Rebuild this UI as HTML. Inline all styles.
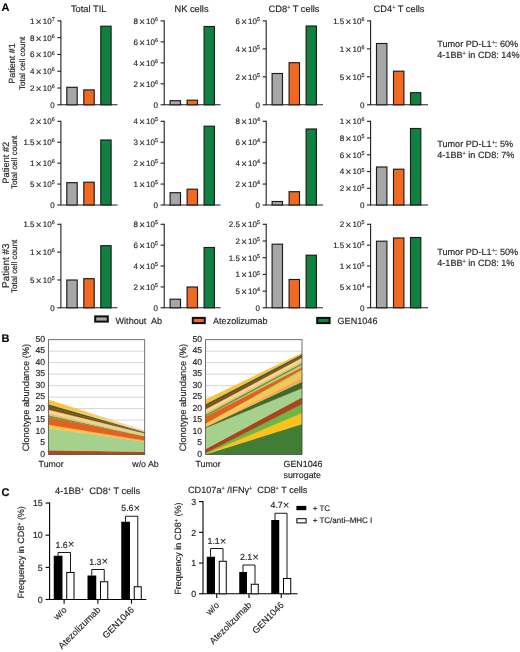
<!DOCTYPE html>
<html lang="en"><head><meta charset="utf-8"><title>Figure</title>
<style>html,body{margin:0;padding:0;background:#fff}svg{display:block}</style></head>
<body>
<svg width="520" height="652" viewBox="0 0 520 652" font-family='"Liberation Sans", Arial, Helvetica, sans-serif' fill="#231f20">
<style>text{text-rendering:geometricPrecision;stroke:#231f20;stroke-width:.16px;stroke-linejoin:round}</style>
<rect width="520" height="652" fill="#fff"/>
<text x="1.6" y="11.2" font-size="11" font-weight="bold" fill="#000">A</text>
<text x="88.7" y="11.6" font-size="9.3" text-anchor="middle">Total TIL</text>
<text x="191.5" y="11.6" font-size="9.3" text-anchor="middle">NK cells</text>
<text x="294" y="11.6" font-size="9.3" text-anchor="middle">CD8<tspan dy="-3" font-size="5.5">+</tspan><tspan dy="3"> T cells</tspan></text>
<text x="399" y="11.6" font-size="9.3" text-anchor="middle">CD4<tspan dy="-3" font-size="5.5">+</tspan><tspan dy="3"> T cells</tspan></text>
<path d="M60.9 20.4V104.8H117.5" fill="none" stroke="#231f20" stroke-width="1.1"/>
<path d="M57.3 20.90H60.9" stroke="#231f20" stroke-width="1.1"/>
<text x="54.699999999999996" y="23.75" font-size="8.0" text-anchor="end">1<tspan font-size="9.8" dx="1.3" dy="1.1">×</tspan><tspan dx="1.2" dy="-1.1">10</tspan><tspan dy="-2.7" font-size="5.4">7</tspan></text>
<path d="M57.3 37.68H60.9" stroke="#231f20" stroke-width="1.1"/>
<text x="54.699999999999996" y="40.53" font-size="8.0" text-anchor="end">8<tspan font-size="9.8" dx="1.3" dy="1.1">×</tspan><tspan dx="1.2" dy="-1.1">10</tspan><tspan dy="-2.7" font-size="5.4">6</tspan></text>
<path d="M57.3 54.46H60.9" stroke="#231f20" stroke-width="1.1"/>
<text x="54.699999999999996" y="57.31" font-size="8.0" text-anchor="end">6<tspan font-size="9.8" dx="1.3" dy="1.1">×</tspan><tspan dx="1.2" dy="-1.1">10</tspan><tspan dy="-2.7" font-size="5.4">6</tspan></text>
<path d="M57.3 71.24H60.9" stroke="#231f20" stroke-width="1.1"/>
<text x="54.699999999999996" y="74.09" font-size="8.0" text-anchor="end">4<tspan font-size="9.8" dx="1.3" dy="1.1">×</tspan><tspan dx="1.2" dy="-1.1">10</tspan><tspan dy="-2.7" font-size="5.4">6</tspan></text>
<path d="M57.3 88.02H60.9" stroke="#231f20" stroke-width="1.1"/>
<text x="54.699999999999996" y="90.87" font-size="8.0" text-anchor="end">2<tspan font-size="9.8" dx="1.3" dy="1.1">×</tspan><tspan dx="1.2" dy="-1.1">10</tspan><tspan dy="-2.7" font-size="5.4">6</tspan></text>
<path d="M57.3 104.80H60.9" stroke="#231f20" stroke-width="1.1"/>
<text x="54.699999999999996" y="107.65" font-size="8.0" text-anchor="end">0</text>
<rect x="66.80" y="87.30" width="10.40" height="17.50" fill="#a7a7aa" stroke="#1c1a1b" stroke-width="1.15"/>
<rect x="83.80" y="89.90" width="10.40" height="14.90" fill="#f26a21" stroke="#1c1a1b" stroke-width="1.15"/>
<rect x="100.80" y="26.20" width="10.30" height="78.60" fill="#0f8141" stroke="#1c1a1b" stroke-width="1.15"/>
<path d="M164.2 20.4V104.8H220.5" fill="none" stroke="#231f20" stroke-width="1.1"/>
<path d="M160.6 20.90H164.2" stroke="#231f20" stroke-width="1.1"/>
<text x="158.0" y="23.75" font-size="8.0" text-anchor="end">8<tspan font-size="9.8" dx="1.3" dy="1.1">×</tspan><tspan dx="1.2" dy="-1.1">10</tspan><tspan dy="-2.7" font-size="5.4">6</tspan></text>
<path d="M160.6 41.88H164.2" stroke="#231f20" stroke-width="1.1"/>
<text x="158.0" y="44.73" font-size="8.0" text-anchor="end">6<tspan font-size="9.8" dx="1.3" dy="1.1">×</tspan><tspan dx="1.2" dy="-1.1">10</tspan><tspan dy="-2.7" font-size="5.4">6</tspan></text>
<path d="M160.6 62.85H164.2" stroke="#231f20" stroke-width="1.1"/>
<text x="158.0" y="65.70" font-size="8.0" text-anchor="end">4<tspan font-size="9.8" dx="1.3" dy="1.1">×</tspan><tspan dx="1.2" dy="-1.1">10</tspan><tspan dy="-2.7" font-size="5.4">6</tspan></text>
<path d="M160.6 83.83H164.2" stroke="#231f20" stroke-width="1.1"/>
<text x="158.0" y="86.67" font-size="8.0" text-anchor="end">2<tspan font-size="9.8" dx="1.3" dy="1.1">×</tspan><tspan dx="1.2" dy="-1.1">10</tspan><tspan dy="-2.7" font-size="5.4">6</tspan></text>
<path d="M160.6 104.80H164.2" stroke="#231f20" stroke-width="1.1"/>
<text x="158.0" y="107.65" font-size="8.0" text-anchor="end">0</text>
<rect x="170.10" y="100.70" width="10.40" height="4.10" fill="#a7a7aa" stroke="#1c1a1b" stroke-width="1.15"/>
<rect x="187.10" y="100.20" width="10.40" height="4.60" fill="#f26a21" stroke="#1c1a1b" stroke-width="1.15"/>
<rect x="204.10" y="26.50" width="10.30" height="78.30" fill="#0f8141" stroke="#1c1a1b" stroke-width="1.15"/>
<path d="M266.2 20.4V104.8H323" fill="none" stroke="#231f20" stroke-width="1.1"/>
<path d="M262.59999999999997 20.90H266.2" stroke="#231f20" stroke-width="1.1"/>
<text x="260.0" y="23.75" font-size="8.0" text-anchor="end">6<tspan font-size="9.8" dx="1.3" dy="1.1">×</tspan><tspan dx="1.2" dy="-1.1">10</tspan><tspan dy="-2.7" font-size="5.4">5</tspan></text>
<path d="M262.59999999999997 48.87H266.2" stroke="#231f20" stroke-width="1.1"/>
<text x="260.0" y="51.72" font-size="8.0" text-anchor="end">4<tspan font-size="9.8" dx="1.3" dy="1.1">×</tspan><tspan dx="1.2" dy="-1.1">10</tspan><tspan dy="-2.7" font-size="5.4">5</tspan></text>
<path d="M262.59999999999997 76.83H266.2" stroke="#231f20" stroke-width="1.1"/>
<text x="260.0" y="79.68" font-size="8.0" text-anchor="end">2<tspan font-size="9.8" dx="1.3" dy="1.1">×</tspan><tspan dx="1.2" dy="-1.1">10</tspan><tspan dy="-2.7" font-size="5.4">5</tspan></text>
<path d="M262.59999999999997 104.80H266.2" stroke="#231f20" stroke-width="1.1"/>
<text x="260.0" y="107.65" font-size="8.0" text-anchor="end">0</text>
<rect x="272.10" y="73.50" width="10.40" height="31.30" fill="#a7a7aa" stroke="#1c1a1b" stroke-width="1.15"/>
<rect x="289.10" y="62.70" width="10.40" height="42.10" fill="#f26a21" stroke="#1c1a1b" stroke-width="1.15"/>
<rect x="306.10" y="26.00" width="10.30" height="78.80" fill="#0f8141" stroke="#1c1a1b" stroke-width="1.15"/>
<path d="M370.6 20.4V104.8H428" fill="none" stroke="#231f20" stroke-width="1.1"/>
<path d="M367.0 20.90H370.6" stroke="#231f20" stroke-width="1.1"/>
<text x="364.40000000000003" y="23.75" font-size="8.0" text-anchor="end">1.5<tspan font-size="9.8" dx="1.3" dy="1.1">×</tspan><tspan dx="1.2" dy="-1.1">10</tspan><tspan dy="-2.7" font-size="5.4">6</tspan></text>
<path d="M367.0 48.87H370.6" stroke="#231f20" stroke-width="1.1"/>
<text x="364.40000000000003" y="51.72" font-size="8.0" text-anchor="end">1<tspan font-size="9.8" dx="1.3" dy="1.1">×</tspan><tspan dx="1.2" dy="-1.1">10</tspan><tspan dy="-2.7" font-size="5.4">6</tspan></text>
<path d="M367.0 76.83H370.6" stroke="#231f20" stroke-width="1.1"/>
<text x="364.40000000000003" y="79.68" font-size="8.0" text-anchor="end">5<tspan font-size="9.8" dx="1.3" dy="1.1">×</tspan><tspan dx="1.2" dy="-1.1">10</tspan><tspan dy="-2.7" font-size="5.4">5</tspan></text>
<path d="M367.0 104.80H370.6" stroke="#231f20" stroke-width="1.1"/>
<text x="364.40000000000003" y="107.65" font-size="8.0" text-anchor="end">0</text>
<rect x="376.50" y="43.50" width="10.40" height="61.30" fill="#a7a7aa" stroke="#1c1a1b" stroke-width="1.15"/>
<rect x="393.50" y="71.20" width="10.40" height="33.60" fill="#f26a21" stroke="#1c1a1b" stroke-width="1.15"/>
<rect x="410.50" y="92.70" width="10.30" height="12.10" fill="#0f8141" stroke="#1c1a1b" stroke-width="1.15"/>
<path d="M60.9 120.8V205.0H117.5" fill="none" stroke="#231f20" stroke-width="1.1"/>
<path d="M57.3 121.30H60.9" stroke="#231f20" stroke-width="1.1"/>
<text x="54.699999999999996" y="124.15" font-size="8.0" text-anchor="end">2<tspan font-size="9.8" dx="1.3" dy="1.1">×</tspan><tspan dx="1.2" dy="-1.1">10</tspan><tspan dy="-2.7" font-size="5.4">6</tspan></text>
<path d="M57.3 142.22H60.9" stroke="#231f20" stroke-width="1.1"/>
<text x="54.699999999999996" y="145.07" font-size="8.0" text-anchor="end">1.5<tspan font-size="9.8" dx="1.3" dy="1.1">×</tspan><tspan dx="1.2" dy="-1.1">10</tspan><tspan dy="-2.7" font-size="5.4">6</tspan></text>
<path d="M57.3 163.15H60.9" stroke="#231f20" stroke-width="1.1"/>
<text x="54.699999999999996" y="166.00" font-size="8.0" text-anchor="end">1<tspan font-size="9.8" dx="1.3" dy="1.1">×</tspan><tspan dx="1.2" dy="-1.1">10</tspan><tspan dy="-2.7" font-size="5.4">6</tspan></text>
<path d="M57.3 184.07H60.9" stroke="#231f20" stroke-width="1.1"/>
<text x="54.699999999999996" y="186.92" font-size="8.0" text-anchor="end">5<tspan font-size="9.8" dx="1.3" dy="1.1">×</tspan><tspan dx="1.2" dy="-1.1">10</tspan><tspan dy="-2.7" font-size="5.4">5</tspan></text>
<path d="M57.3 205.00H60.9" stroke="#231f20" stroke-width="1.1"/>
<text x="54.699999999999996" y="207.85" font-size="8.0" text-anchor="end">0</text>
<rect x="66.80" y="182.70" width="10.40" height="22.30" fill="#a7a7aa" stroke="#1c1a1b" stroke-width="1.15"/>
<rect x="83.80" y="182.20" width="10.40" height="22.80" fill="#f26a21" stroke="#1c1a1b" stroke-width="1.15"/>
<rect x="100.80" y="140.00" width="10.30" height="65.00" fill="#0f8141" stroke="#1c1a1b" stroke-width="1.15"/>
<path d="M164.2 120.8V205.0H220.5" fill="none" stroke="#231f20" stroke-width="1.1"/>
<path d="M160.6 121.30H164.2" stroke="#231f20" stroke-width="1.1"/>
<text x="158.0" y="124.15" font-size="8.0" text-anchor="end">4<tspan font-size="9.8" dx="1.3" dy="1.1">×</tspan><tspan dx="1.2" dy="-1.1">10</tspan><tspan dy="-2.7" font-size="5.4">5</tspan></text>
<path d="M160.6 142.22H164.2" stroke="#231f20" stroke-width="1.1"/>
<text x="158.0" y="145.07" font-size="8.0" text-anchor="end">3<tspan font-size="9.8" dx="1.3" dy="1.1">×</tspan><tspan dx="1.2" dy="-1.1">10</tspan><tspan dy="-2.7" font-size="5.4">5</tspan></text>
<path d="M160.6 163.15H164.2" stroke="#231f20" stroke-width="1.1"/>
<text x="158.0" y="166.00" font-size="8.0" text-anchor="end">2<tspan font-size="9.8" dx="1.3" dy="1.1">×</tspan><tspan dx="1.2" dy="-1.1">10</tspan><tspan dy="-2.7" font-size="5.4">5</tspan></text>
<path d="M160.6 184.07H164.2" stroke="#231f20" stroke-width="1.1"/>
<text x="158.0" y="186.92" font-size="8.0" text-anchor="end">1<tspan font-size="9.8" dx="1.3" dy="1.1">×</tspan><tspan dx="1.2" dy="-1.1">10</tspan><tspan dy="-2.7" font-size="5.4">5</tspan></text>
<path d="M160.6 205.00H164.2" stroke="#231f20" stroke-width="1.1"/>
<text x="158.0" y="207.85" font-size="8.0" text-anchor="end">0</text>
<rect x="170.10" y="192.70" width="10.40" height="12.30" fill="#a7a7aa" stroke="#1c1a1b" stroke-width="1.15"/>
<rect x="187.10" y="189.20" width="10.40" height="15.80" fill="#f26a21" stroke="#1c1a1b" stroke-width="1.15"/>
<rect x="204.10" y="126.20" width="10.30" height="78.80" fill="#0f8141" stroke="#1c1a1b" stroke-width="1.15"/>
<path d="M266.2 120.8V205.0H323" fill="none" stroke="#231f20" stroke-width="1.1"/>
<path d="M262.59999999999997 121.30H266.2" stroke="#231f20" stroke-width="1.1"/>
<text x="260.0" y="124.15" font-size="8.0" text-anchor="end">8<tspan font-size="9.8" dx="1.3" dy="1.1">×</tspan><tspan dx="1.2" dy="-1.1">10</tspan><tspan dy="-2.7" font-size="5.4">4</tspan></text>
<path d="M262.59999999999997 142.22H266.2" stroke="#231f20" stroke-width="1.1"/>
<text x="260.0" y="145.07" font-size="8.0" text-anchor="end">6<tspan font-size="9.8" dx="1.3" dy="1.1">×</tspan><tspan dx="1.2" dy="-1.1">10</tspan><tspan dy="-2.7" font-size="5.4">4</tspan></text>
<path d="M262.59999999999997 163.15H266.2" stroke="#231f20" stroke-width="1.1"/>
<text x="260.0" y="166.00" font-size="8.0" text-anchor="end">4<tspan font-size="9.8" dx="1.3" dy="1.1">×</tspan><tspan dx="1.2" dy="-1.1">10</tspan><tspan dy="-2.7" font-size="5.4">4</tspan></text>
<path d="M262.59999999999997 184.07H266.2" stroke="#231f20" stroke-width="1.1"/>
<text x="260.0" y="186.92" font-size="8.0" text-anchor="end">2<tspan font-size="9.8" dx="1.3" dy="1.1">×</tspan><tspan dx="1.2" dy="-1.1">10</tspan><tspan dy="-2.7" font-size="5.4">4</tspan></text>
<path d="M262.59999999999997 205.00H266.2" stroke="#231f20" stroke-width="1.1"/>
<text x="260.0" y="207.85" font-size="8.0" text-anchor="end">0</text>
<rect x="272.10" y="201.50" width="10.40" height="3.50" fill="#a7a7aa" stroke="#1c1a1b" stroke-width="1.15"/>
<rect x="289.10" y="191.70" width="10.40" height="13.30" fill="#f26a21" stroke="#1c1a1b" stroke-width="1.15"/>
<rect x="306.10" y="129.00" width="10.30" height="76.00" fill="#0f8141" stroke="#1c1a1b" stroke-width="1.15"/>
<path d="M370.6 120.8V205.0H428" fill="none" stroke="#231f20" stroke-width="1.1"/>
<path d="M367.0 121.30H370.6" stroke="#231f20" stroke-width="1.1"/>
<text x="364.40000000000003" y="124.15" font-size="8.0" text-anchor="end">1<tspan font-size="9.8" dx="1.3" dy="1.1">×</tspan><tspan dx="1.2" dy="-1.1">10</tspan><tspan dy="-2.7" font-size="5.4">6</tspan></text>
<path d="M367.0 138.04H370.6" stroke="#231f20" stroke-width="1.1"/>
<text x="364.40000000000003" y="140.89" font-size="8.0" text-anchor="end">8<tspan font-size="9.8" dx="1.3" dy="1.1">×</tspan><tspan dx="1.2" dy="-1.1">10</tspan><tspan dy="-2.7" font-size="5.4">5</tspan></text>
<path d="M367.0 154.78H370.6" stroke="#231f20" stroke-width="1.1"/>
<text x="364.40000000000003" y="157.63" font-size="8.0" text-anchor="end">6<tspan font-size="9.8" dx="1.3" dy="1.1">×</tspan><tspan dx="1.2" dy="-1.1">10</tspan><tspan dy="-2.7" font-size="5.4">5</tspan></text>
<path d="M367.0 171.52H370.6" stroke="#231f20" stroke-width="1.1"/>
<text x="364.40000000000003" y="174.37" font-size="8.0" text-anchor="end">4<tspan font-size="9.8" dx="1.3" dy="1.1">×</tspan><tspan dx="1.2" dy="-1.1">10</tspan><tspan dy="-2.7" font-size="5.4">5</tspan></text>
<path d="M367.0 188.26H370.6" stroke="#231f20" stroke-width="1.1"/>
<text x="364.40000000000003" y="191.11" font-size="8.0" text-anchor="end">2<tspan font-size="9.8" dx="1.3" dy="1.1">×</tspan><tspan dx="1.2" dy="-1.1">10</tspan><tspan dy="-2.7" font-size="5.4">5</tspan></text>
<path d="M367.0 205.00H370.6" stroke="#231f20" stroke-width="1.1"/>
<text x="364.40000000000003" y="207.85" font-size="8.0" text-anchor="end">0</text>
<rect x="376.50" y="167.00" width="10.40" height="38.00" fill="#a7a7aa" stroke="#1c1a1b" stroke-width="1.15"/>
<rect x="393.50" y="169.20" width="10.40" height="35.80" fill="#f26a21" stroke="#1c1a1b" stroke-width="1.15"/>
<rect x="410.50" y="128.50" width="10.30" height="76.50" fill="#0f8141" stroke="#1c1a1b" stroke-width="1.15"/>
<path d="M60.9 223.8V307.8H117.5" fill="none" stroke="#231f20" stroke-width="1.1"/>
<path d="M57.3 224.30H60.9" stroke="#231f20" stroke-width="1.1"/>
<text x="54.699999999999996" y="227.15" font-size="8.0" text-anchor="end">1.5<tspan font-size="9.8" dx="1.3" dy="1.1">×</tspan><tspan dx="1.2" dy="-1.1">10</tspan><tspan dy="-2.7" font-size="5.4">6</tspan></text>
<path d="M57.3 252.13H60.9" stroke="#231f20" stroke-width="1.1"/>
<text x="54.699999999999996" y="254.98" font-size="8.0" text-anchor="end">1<tspan font-size="9.8" dx="1.3" dy="1.1">×</tspan><tspan dx="1.2" dy="-1.1">10</tspan><tspan dy="-2.7" font-size="5.4">6</tspan></text>
<path d="M57.3 279.97H60.9" stroke="#231f20" stroke-width="1.1"/>
<text x="54.699999999999996" y="282.82" font-size="8.0" text-anchor="end">5<tspan font-size="9.8" dx="1.3" dy="1.1">×</tspan><tspan dx="1.2" dy="-1.1">10</tspan><tspan dy="-2.7" font-size="5.4">5</tspan></text>
<path d="M57.3 307.80H60.9" stroke="#231f20" stroke-width="1.1"/>
<text x="54.699999999999996" y="310.65" font-size="8.0" text-anchor="end">0</text>
<rect x="66.80" y="280.00" width="10.40" height="27.80" fill="#a7a7aa" stroke="#1c1a1b" stroke-width="1.15"/>
<rect x="83.80" y="278.70" width="10.40" height="29.10" fill="#f26a21" stroke="#1c1a1b" stroke-width="1.15"/>
<rect x="100.80" y="245.70" width="10.30" height="62.10" fill="#0f8141" stroke="#1c1a1b" stroke-width="1.15"/>
<path d="M164.2 223.8V307.8H220.5" fill="none" stroke="#231f20" stroke-width="1.1"/>
<path d="M160.6 224.30H164.2" stroke="#231f20" stroke-width="1.1"/>
<text x="158.0" y="227.15" font-size="8.0" text-anchor="end">8<tspan font-size="9.8" dx="1.3" dy="1.1">×</tspan><tspan dx="1.2" dy="-1.1">10</tspan><tspan dy="-2.7" font-size="5.4">5</tspan></text>
<path d="M160.6 245.18H164.2" stroke="#231f20" stroke-width="1.1"/>
<text x="158.0" y="248.03" font-size="8.0" text-anchor="end">6<tspan font-size="9.8" dx="1.3" dy="1.1">×</tspan><tspan dx="1.2" dy="-1.1">10</tspan><tspan dy="-2.7" font-size="5.4">5</tspan></text>
<path d="M160.6 266.05H164.2" stroke="#231f20" stroke-width="1.1"/>
<text x="158.0" y="268.90" font-size="8.0" text-anchor="end">4<tspan font-size="9.8" dx="1.3" dy="1.1">×</tspan><tspan dx="1.2" dy="-1.1">10</tspan><tspan dy="-2.7" font-size="5.4">5</tspan></text>
<path d="M160.6 286.93H164.2" stroke="#231f20" stroke-width="1.1"/>
<text x="158.0" y="289.78" font-size="8.0" text-anchor="end">2<tspan font-size="9.8" dx="1.3" dy="1.1">×</tspan><tspan dx="1.2" dy="-1.1">10</tspan><tspan dy="-2.7" font-size="5.4">5</tspan></text>
<path d="M160.6 307.80H164.2" stroke="#231f20" stroke-width="1.1"/>
<text x="158.0" y="310.65" font-size="8.0" text-anchor="end">0</text>
<rect x="170.10" y="299.20" width="10.40" height="8.60" fill="#a7a7aa" stroke="#1c1a1b" stroke-width="1.15"/>
<rect x="187.10" y="287.00" width="10.40" height="20.80" fill="#f26a21" stroke="#1c1a1b" stroke-width="1.15"/>
<rect x="204.10" y="247.50" width="10.30" height="60.30" fill="#0f8141" stroke="#1c1a1b" stroke-width="1.15"/>
<path d="M266.2 223.8V307.8H323" fill="none" stroke="#231f20" stroke-width="1.1"/>
<path d="M262.59999999999997 224.30H266.2" stroke="#231f20" stroke-width="1.1"/>
<text x="260.0" y="227.15" font-size="8.0" text-anchor="end">2.5<tspan font-size="9.8" dx="1.3" dy="1.1">×</tspan><tspan dx="1.2" dy="-1.1">10</tspan><tspan dy="-2.7" font-size="5.4">5</tspan></text>
<path d="M262.59999999999997 241.00H266.2" stroke="#231f20" stroke-width="1.1"/>
<text x="260.0" y="243.85" font-size="8.0" text-anchor="end">2<tspan font-size="9.8" dx="1.3" dy="1.1">×</tspan><tspan dx="1.2" dy="-1.1">10</tspan><tspan dy="-2.7" font-size="5.4">5</tspan></text>
<path d="M262.59999999999997 257.70H266.2" stroke="#231f20" stroke-width="1.1"/>
<text x="260.0" y="260.55" font-size="8.0" text-anchor="end">1.5<tspan font-size="9.8" dx="1.3" dy="1.1">×</tspan><tspan dx="1.2" dy="-1.1">10</tspan><tspan dy="-2.7" font-size="5.4">5</tspan></text>
<path d="M262.59999999999997 274.40H266.2" stroke="#231f20" stroke-width="1.1"/>
<text x="260.0" y="277.25" font-size="8.0" text-anchor="end">1<tspan font-size="9.8" dx="1.3" dy="1.1">×</tspan><tspan dx="1.2" dy="-1.1">10</tspan><tspan dy="-2.7" font-size="5.4">5</tspan></text>
<path d="M262.59999999999997 291.10H266.2" stroke="#231f20" stroke-width="1.1"/>
<text x="260.0" y="293.95" font-size="8.0" text-anchor="end">5<tspan font-size="9.8" dx="1.3" dy="1.1">×</tspan><tspan dx="1.2" dy="-1.1">10</tspan><tspan dy="-2.7" font-size="5.4">4</tspan></text>
<path d="M262.59999999999997 307.80H266.2" stroke="#231f20" stroke-width="1.1"/>
<text x="260.0" y="310.65" font-size="8.0" text-anchor="end">0</text>
<rect x="272.10" y="244.20" width="10.40" height="63.60" fill="#a7a7aa" stroke="#1c1a1b" stroke-width="1.15"/>
<rect x="289.10" y="279.50" width="10.40" height="28.30" fill="#f26a21" stroke="#1c1a1b" stroke-width="1.15"/>
<rect x="306.10" y="255.20" width="10.30" height="52.60" fill="#0f8141" stroke="#1c1a1b" stroke-width="1.15"/>
<path d="M370.6 223.8V307.8H428" fill="none" stroke="#231f20" stroke-width="1.1"/>
<path d="M367.0 224.30H370.6" stroke="#231f20" stroke-width="1.1"/>
<text x="364.40000000000003" y="227.15" font-size="8.0" text-anchor="end">2<tspan font-size="9.8" dx="1.3" dy="1.1">×</tspan><tspan dx="1.2" dy="-1.1">10</tspan><tspan dy="-2.7" font-size="5.4">5</tspan></text>
<path d="M367.0 245.18H370.6" stroke="#231f20" stroke-width="1.1"/>
<text x="364.40000000000003" y="248.03" font-size="8.0" text-anchor="end">1.5<tspan font-size="9.8" dx="1.3" dy="1.1">×</tspan><tspan dx="1.2" dy="-1.1">10</tspan><tspan dy="-2.7" font-size="5.4">5</tspan></text>
<path d="M367.0 266.05H370.6" stroke="#231f20" stroke-width="1.1"/>
<text x="364.40000000000003" y="268.90" font-size="8.0" text-anchor="end">1<tspan font-size="9.8" dx="1.3" dy="1.1">×</tspan><tspan dx="1.2" dy="-1.1">10</tspan><tspan dy="-2.7" font-size="5.4">5</tspan></text>
<path d="M367.0 286.93H370.6" stroke="#231f20" stroke-width="1.1"/>
<text x="364.40000000000003" y="289.78" font-size="8.0" text-anchor="end">5<tspan font-size="9.8" dx="1.3" dy="1.1">×</tspan><tspan dx="1.2" dy="-1.1">10</tspan><tspan dy="-2.7" font-size="5.4">4</tspan></text>
<path d="M367.0 307.80H370.6" stroke="#231f20" stroke-width="1.1"/>
<text x="364.40000000000003" y="310.65" font-size="8.0" text-anchor="end">0</text>
<rect x="376.50" y="241.20" width="10.40" height="66.60" fill="#a7a7aa" stroke="#1c1a1b" stroke-width="1.15"/>
<rect x="393.50" y="238.00" width="10.40" height="69.80" fill="#f26a21" stroke="#1c1a1b" stroke-width="1.15"/>
<rect x="410.50" y="237.50" width="10.30" height="70.30" fill="#0f8141" stroke="#1c1a1b" stroke-width="1.15"/>
<text transform="translate(14.5,63.6) rotate(-90)" font-size="9.0" text-anchor="middle">Patient #1</text>
<text transform="translate(25.2,63.35) rotate(-90)" font-size="8.05" text-anchor="middle">Total cell count</text>
<text transform="translate(8.5,162.7) rotate(-90)" font-size="9.3" text-anchor="middle">Patient #2</text>
<text transform="translate(17.2,162.3) rotate(-90)" font-size="8.05" text-anchor="middle">Total cell count</text>
<text transform="translate(8.5,265.7) rotate(-90)" font-size="9.9" text-anchor="middle">Patient #3</text>
<text transform="translate(16.8,266.4) rotate(-90)" font-size="8.05" text-anchor="middle">Total cell count</text>
<text x="437.2" y="46.7" font-size="9.15">Tumor PD-L1<tspan dy="-3" font-size="5.5">+</tspan><tspan dy="3">: 60%</tspan></text>
<text x="437.2" y="57.800000000000004" font-size="9.15">4-1BB<tspan dy="-3" font-size="5.5">+</tspan><tspan dy="3"> in CD8: 14%</tspan></text>
<text x="437.2" y="147.3" font-size="9.15">Tumor PD-L1<tspan dy="-3" font-size="5.5">+</tspan><tspan dy="3">: 5%</tspan></text>
<text x="437.2" y="158.4" font-size="9.15">4-1BB<tspan dy="-3" font-size="5.5">+</tspan><tspan dy="3"> in CD8: 7%</tspan></text>
<text x="437.2" y="255.0" font-size="9.15">Tumor PD-L1<tspan dy="-3" font-size="5.5">+</tspan><tspan dy="3">: 50%</tspan></text>
<text x="437.2" y="266.1" font-size="9.15">4-1BB<tspan dy="-3" font-size="5.5">+</tspan><tspan dy="3"> in CD8: 1%</tspan></text>
<rect x="95.2" y="316.4" width="12.6" height="5.2" fill="#a7a7aa" stroke="#0d0d0d" stroke-width="2"/>
<text x="115.5" y="324.2" font-size="9.1" xml:space="preserve">Without  Ab</text>
<rect x="192.8" y="317.9" width="12.0" height="5.2" fill="#f26a21" stroke="#0d0d0d" stroke-width="2"/>
<text x="213.0" y="324.2" font-size="9.1" xml:space="preserve">Atezolizumab</text>
<rect x="317.2" y="317.9" width="12.4" height="5.2" fill="#0f8141" stroke="#0d0d0d" stroke-width="2"/>
<text x="337.5" y="324.2" font-size="9.1" xml:space="preserve">GEN1046</text>
<text x="1.5" y="342.2" font-size="11" font-weight="bold" fill="#000">B</text>
<rect x="48.6" y="339.7" width="96.1" height="114.80000000000001" fill="#fff"/>
<path d="M48.6 443.02H144.7" stroke="#b4b4ba" stroke-width="0.55"/>
<path d="M48.6 431.54H144.7" stroke="#b4b4ba" stroke-width="0.55"/>
<path d="M48.6 420.06H144.7" stroke="#b4b4ba" stroke-width="0.55"/>
<path d="M48.6 408.58H144.7" stroke="#b4b4ba" stroke-width="0.55"/>
<path d="M48.6 397.10H144.7" stroke="#b4b4ba" stroke-width="0.55"/>
<path d="M48.6 385.62H144.7" stroke="#b4b4ba" stroke-width="0.55"/>
<path d="M48.6 374.14H144.7" stroke="#b4b4ba" stroke-width="0.55"/>
<path d="M48.6 362.66H144.7" stroke="#b4b4ba" stroke-width="0.55"/>
<path d="M48.6 351.18H144.7" stroke="#b4b4ba" stroke-width="0.55"/>
<path d="M48.6 454.50L144.7 454.50L144.7 451.74L48.6 450.37Z" fill="#a84c20" stroke="#a84c20" stroke-width="0.3"/>
<path d="M48.6 450.37L144.7 451.74L144.7 441.64L48.6 428.33Z" fill="#a5d18d" stroke="#a5d18d" stroke-width="0.3"/>
<linearGradient id="g1" gradientUnits="userSpaceOnUse" x1="48.6" y1="0" x2="144.7" y2="0"><stop offset="0.15" stop-color="#fcc549"/><stop offset="0.85" stop-color="#f9b35c"/></linearGradient>
<path d="M48.6 428.33L144.7 441.64L144.7 440.49L48.6 424.65Z" fill="url(#g1)" stroke="url(#g1)" stroke-width="0.3"/>
<path d="M48.6 424.65L144.7 440.49L144.7 436.36L48.6 417.30Z" fill="#e2611f" stroke="#e2611f" stroke-width="0.3"/>
<path d="M48.6 417.30L144.7 436.36L144.7 436.13L48.6 415.24Z" fill="#5f9c3c" stroke="#5f9c3c" stroke-width="0.3"/>
<path d="M48.6 415.24L144.7 436.13L144.7 435.90L48.6 412.94Z" fill="#f7b777" stroke="#f7b777" stroke-width="0.3"/>
<linearGradient id="g2" gradientUnits="userSpaceOnUse" x1="48.6" y1="0" x2="144.7" y2="0"><stop offset="0.15" stop-color="#f3da8c"/><stop offset="0.85" stop-color="#d6d588"/></linearGradient>
<path d="M48.6 412.94L144.7 435.90L144.7 433.15L48.6 409.73Z" fill="url(#g2)" stroke="url(#g2)" stroke-width="0.3"/>
<path d="M48.6 409.73L144.7 433.15L144.7 432.69L48.6 406.97Z" fill="#8a4a1b" stroke="#8a4a1b" stroke-width="0.3"/>
<path d="M48.6 406.97L144.7 432.69L144.7 432.00L48.6 404.22Z" fill="#4f5a1f" stroke="#4f5a1f" stroke-width="0.3"/>
<linearGradient id="g3" gradientUnits="userSpaceOnUse" x1="48.6" y1="0" x2="144.7" y2="0"><stop offset="0.15" stop-color="#fac23e"/><stop offset="0.85" stop-color="#f9d6a4"/></linearGradient>
<path d="M48.6 404.22L144.7 432.00L144.7 430.62L48.6 399.86Z" fill="url(#g3)" stroke="url(#g3)" stroke-width="0.3"/>
<rect x="48.6" y="339.7" width="96.1" height="114.80000000000001" fill="none" stroke="#4f4f52" stroke-width="0.8"/>
<text x="45.2" y="456.50" font-size="8.7" text-anchor="end">0</text>
<text x="45.2" y="445.02" font-size="8.7" text-anchor="end">5</text>
<text x="45.2" y="433.54" font-size="8.7" text-anchor="end">10</text>
<text x="45.2" y="422.06" font-size="8.7" text-anchor="end">15</text>
<text x="45.2" y="410.58" font-size="8.7" text-anchor="end">20</text>
<text x="45.2" y="399.10" font-size="8.7" text-anchor="end">25</text>
<text x="45.2" y="387.62" font-size="8.7" text-anchor="end">30</text>
<text x="45.2" y="376.14" font-size="8.7" text-anchor="end">35</text>
<text x="45.2" y="364.66" font-size="8.7" text-anchor="end">40</text>
<text x="45.2" y="353.18" font-size="8.7" text-anchor="end">45</text>
<text x="45.2" y="341.70" font-size="8.7" text-anchor="end">50</text>
<text transform="translate(28.900000000000002,397.6) rotate(-90)" font-size="9.3" text-anchor="middle">Clonotype abundance (%)</text>
<text x="38.6" y="466.8" font-size="8.8">Tumor</text>
<text x="132.3" y="466.8" font-size="8.8">w/o Ab</text>
<rect x="205.6" y="339.7" width="96.4" height="114.80000000000001" fill="#fff"/>
<path d="M205.6 443.02H302.0" stroke="#b4b4ba" stroke-width="0.55"/>
<path d="M205.6 431.54H302.0" stroke="#b4b4ba" stroke-width="0.55"/>
<path d="M205.6 420.06H302.0" stroke="#b4b4ba" stroke-width="0.55"/>
<path d="M205.6 408.58H302.0" stroke="#b4b4ba" stroke-width="0.55"/>
<path d="M205.6 397.10H302.0" stroke="#b4b4ba" stroke-width="0.55"/>
<path d="M205.6 385.62H302.0" stroke="#b4b4ba" stroke-width="0.55"/>
<path d="M205.6 374.14H302.0" stroke="#b4b4ba" stroke-width="0.55"/>
<path d="M205.6 362.66H302.0" stroke="#b4b4ba" stroke-width="0.55"/>
<path d="M205.6 351.18H302.0" stroke="#b4b4ba" stroke-width="0.55"/>
<path d="M205.6 454.50L302.0 454.50L302.0 423.96L205.6 454.27Z" fill="#417d35" stroke="#417d35" stroke-width="0.3"/>
<path d="M205.6 454.27L302.0 423.96L302.0 412.94L205.6 453.81Z" fill="#fcc21a" stroke="#fcc21a" stroke-width="0.3"/>
<path d="M205.6 453.81L302.0 412.94L302.0 404.10L205.6 453.12Z" fill="#6db742" stroke="#6db742" stroke-width="0.3"/>
<path d="M205.6 453.12L302.0 404.10L302.0 397.33L205.6 448.99Z" fill="#a8441f" stroke="#a8441f" stroke-width="0.3"/>
<path d="M205.6 448.99L302.0 397.33L302.0 388.15L205.6 427.98Z" fill="#a5d18d" stroke="#a5d18d" stroke-width="0.3"/>
<path d="M205.6 427.98L302.0 388.15L302.0 381.72L205.6 427.06Z" fill="#3f6b2a" stroke="#3f6b2a" stroke-width="0.3"/>
<path d="M205.6 427.06L302.0 381.72L302.0 377.70L205.6 426.83Z" fill="#f6a560" stroke="#f6a560" stroke-width="0.3"/>
<path d="M205.6 426.83L302.0 377.70L302.0 373.45L205.6 423.85Z" fill="#fcc549" stroke="#fcc549" stroke-width="0.3"/>
<path d="M205.6 423.85L302.0 373.45L302.0 369.78L205.6 423.50Z" fill="#c9d264" stroke="#c9d264" stroke-width="0.3"/>
<path d="M205.6 423.50L302.0 369.78L302.0 367.02L205.6 416.50Z" fill="#e2611f" stroke="#e2611f" stroke-width="0.3"/>
<path d="M205.6 416.50L302.0 367.02L302.0 364.73L205.6 416.39Z" fill="#c9d264" stroke="#c9d264" stroke-width="0.3"/>
<path d="M205.6 416.39L302.0 364.73L302.0 362.89L205.6 414.55Z" fill="#5f9c3c" stroke="#5f9c3c" stroke-width="0.3"/>
<path d="M205.6 414.55L302.0 362.89L302.0 361.05L205.6 412.60Z" fill="#f7b777" stroke="#f7b777" stroke-width="0.3"/>
<path d="M205.6 412.60L302.0 361.05L302.0 357.84L205.6 409.27Z" fill="#f3da8c" stroke="#f3da8c" stroke-width="0.3"/>
<path d="M205.6 409.27L302.0 357.84L302.0 356.23L205.6 406.86Z" fill="#8a4a1b" stroke="#8a4a1b" stroke-width="0.3"/>
<path d="M205.6 406.86L302.0 356.23L302.0 354.16L205.6 404.10Z" fill="#4f5a1f" stroke="#4f5a1f" stroke-width="0.3"/>
<path d="M205.6 404.10L302.0 354.16L302.0 353.02L205.6 399.40Z" fill="#fac23e" stroke="#fac23e" stroke-width="0.3"/>
<rect x="205.6" y="339.7" width="96.4" height="114.80000000000001" fill="none" stroke="#4f4f52" stroke-width="0.8"/>
<text x="202.2" y="456.50" font-size="8.7" text-anchor="end">0</text>
<text x="202.2" y="445.02" font-size="8.7" text-anchor="end">5</text>
<text x="202.2" y="433.54" font-size="8.7" text-anchor="end">10</text>
<text x="202.2" y="422.06" font-size="8.7" text-anchor="end">15</text>
<text x="202.2" y="410.58" font-size="8.7" text-anchor="end">20</text>
<text x="202.2" y="399.10" font-size="8.7" text-anchor="end">25</text>
<text x="202.2" y="387.62" font-size="8.7" text-anchor="end">30</text>
<text x="202.2" y="376.14" font-size="8.7" text-anchor="end">35</text>
<text x="202.2" y="364.66" font-size="8.7" text-anchor="end">40</text>
<text x="202.2" y="353.18" font-size="8.7" text-anchor="end">45</text>
<text x="202.2" y="341.70" font-size="8.7" text-anchor="end">50</text>
<text transform="translate(185.9,397.6) rotate(-90)" font-size="9.3" text-anchor="middle">Clonotype abundance (%)</text>
<text x="195.5" y="466.8" font-size="8.8">Tumor</text>
<text x="283.5" y="466.8" font-size="8.9">GEN1046</text>
<text x="283.5" y="477.9" font-size="8.9">surrogate</text>
<text x="1.4" y="495.5" font-size="11" font-weight="bold" fill="#000">C</text>
<path d="M49.6 502.5V599.5H146.3" fill="none" stroke="#000" stroke-width="1.1"/>
<path d="M45.6 503.00H49.6" stroke="#000" stroke-width="1.1"/>
<text x="42.7" y="506.20" font-size="8.8" text-anchor="end">15</text>
<path d="M45.6 535.17H49.6" stroke="#000" stroke-width="1.1"/>
<text x="42.7" y="538.37" font-size="8.8" text-anchor="end">10</text>
<path d="M45.6 567.33H49.6" stroke="#000" stroke-width="1.1"/>
<text x="42.7" y="570.53" font-size="8.8" text-anchor="end">5</text>
<path d="M45.6 599.50H49.6" stroke="#000" stroke-width="1.1"/>
<text x="42.7" y="602.70" font-size="8.8" text-anchor="end">0</text>
<rect x="53.75" y="555.75" width="8.75" height="43.75" fill="#000"/>
<rect x="66.75" y="572.50" width="7.25" height="27.00" fill="#fff" stroke="#000" stroke-width="1"/>
<path d="M64.12 599.5v4.2" stroke="#000" stroke-width="1.1"/>
<path d="M58.0 555.75V552.5H70.5V572.0" fill="none" stroke="#000" stroke-width="0.9"/>
<text x="65" y="547.5" font-size="8.8" text-anchor="middle">1.6<tspan font-size="11.5" dy="0.9" stroke-width="0">×</tspan></text>
<text transform="translate(67.33,610.5) rotate(-45)" font-size="9.2" text-anchor="end">w/o</text>
<rect x="87.50" y="575.50" width="8.75" height="24.00" fill="#000"/>
<rect x="100.50" y="581.75" width="7.25" height="17.75" fill="#fff" stroke="#000" stroke-width="1"/>
<path d="M97.88 599.5v4.2" stroke="#000" stroke-width="1.1"/>
<path d="M91.75 575.5V569.5H104.25V581.25" fill="none" stroke="#000" stroke-width="0.9"/>
<text x="98.75" y="564.5" font-size="8.8" text-anchor="middle">1.3<tspan font-size="11.5" dy="0.9" stroke-width="0">×</tspan></text>
<text transform="translate(101.08,610.5) rotate(-45)" font-size="9.2" text-anchor="end">Atezolizumab</text>
<rect x="121.25" y="521.75" width="8.75" height="77.75" fill="#000"/>
<rect x="134.25" y="586.75" width="7.00" height="12.75" fill="#fff" stroke="#000" stroke-width="1"/>
<path d="M131.50 599.5v4.2" stroke="#000" stroke-width="1.1"/>
<path d="M125.5 521.75V516.25H137.75V586.25" fill="none" stroke="#000" stroke-width="0.9"/>
<text x="130.75" y="511.25" font-size="8.8" text-anchor="middle">5.6<tspan font-size="11.5" dy="0.9" stroke-width="0">×</tspan></text>
<text transform="translate(134.70,610.5) rotate(-45)" font-size="9.2" text-anchor="end">GEN1046</text>
<text x="55" y="493.9" font-size="9.3" xml:space="preserve">4-1BB<tspan dy="-3" font-size="5.5">+</tspan><tspan dy="3">  CD8</tspan><tspan dy="-3" font-size="5.5">+</tspan><tspan dy="3"> T cells</tspan></text>
<text transform="translate(24.2,552.25) rotate(-90)" font-size="9" text-anchor="middle">Frequency in CD8<tspan dy="-3" font-size="5.5">+</tspan><tspan dy="3"> (%)</tspan></text>
<path d="M203.0 501.1V593.8H297.5" fill="none" stroke="#000" stroke-width="1.1"/>
<path d="M199.0 501.60H203.0" stroke="#000" stroke-width="1.1"/>
<text x="196.1" y="504.80" font-size="8.8" text-anchor="end">3</text>
<path d="M199.0 532.33H203.0" stroke="#000" stroke-width="1.1"/>
<text x="196.1" y="535.53" font-size="8.8" text-anchor="end">2</text>
<path d="M199.0 563.07H203.0" stroke="#000" stroke-width="1.1"/>
<text x="196.1" y="566.27" font-size="8.8" text-anchor="end">1</text>
<path d="M199.0 593.80H203.0" stroke="#000" stroke-width="1.1"/>
<text x="196.1" y="597.00" font-size="8.8" text-anchor="end">0</text>
<rect x="206.75" y="556.75" width="8.25" height="37.05" fill="#000"/>
<rect x="219.25" y="561.25" width="7.00" height="32.55" fill="#fff" stroke="#000" stroke-width="1"/>
<path d="M216.75 593.8v4.2" stroke="#000" stroke-width="1.1"/>
<path d="M210.5 556.75V548.5H223.0V560.75" fill="none" stroke="#000" stroke-width="0.9"/>
<text x="217" y="543.75" font-size="8.8" text-anchor="middle">1.1<tspan font-size="11.5" dy="0.9" stroke-width="0">×</tspan></text>
<text transform="translate(219.95,605.6999999999999) rotate(-45)" font-size="9.2" text-anchor="end">w/o</text>
<rect x="239.25" y="572.00" width="7.75" height="21.80" fill="#000"/>
<rect x="251.25" y="584.25" width="7.00" height="9.55" fill="#fff" stroke="#000" stroke-width="1"/>
<path d="M249.00 593.8v4.2" stroke="#000" stroke-width="1.1"/>
<path d="M243.0 572.0V565.0H255.0V583.75" fill="none" stroke="#000" stroke-width="0.9"/>
<text x="249.5" y="560.0" font-size="8.8" text-anchor="middle">2.1<tspan font-size="11.5" dy="0.9" stroke-width="0">×</tspan></text>
<text transform="translate(252.20,605.6999999999999) rotate(-45)" font-size="9.2" text-anchor="end">Atezolizumab</text>
<rect x="271.25" y="520.00" width="8.00" height="73.80" fill="#000"/>
<rect x="283.50" y="578.50" width="7.25" height="15.30" fill="#fff" stroke="#000" stroke-width="1"/>
<path d="M281.25 593.8v4.2" stroke="#000" stroke-width="1.1"/>
<path d="M275.0 520.0V513.25H287.0V578.0" fill="none" stroke="#000" stroke-width="0.9"/>
<text x="280" y="508.25" font-size="8.8" text-anchor="middle">4.7<tspan font-size="11.5" dy="0.9" stroke-width="0">×</tspan></text>
<text transform="translate(284.45,605.6999999999999) rotate(-45)" font-size="9.2" text-anchor="end">GEN1046</text>
<text x="188" y="493.1" font-size="9.15" xml:space="preserve">CD107a<tspan dy="-3" font-size="5.5">+</tspan><tspan dy="3"> /IFNγ</tspan><tspan dy="-3" font-size="5.5">+</tspan><tspan dy="3">  CD8</tspan><tspan dy="-3" font-size="5.5">+</tspan><tspan dy="3"> T cells</tspan></text>
<text transform="translate(180.8,548.7) rotate(-90)" font-size="9" text-anchor="middle">Frequency in CD8<tspan dy="-3" font-size="5.5">+</tspan><tspan dy="3"> (%)</tspan></text>
<rect x="296.4" y="505.9" width="9.9" height="4.3" fill="#000"/>
<text x="312.7" y="510.6" font-size="8">+ TC</text>
<rect x="296.9" y="518.7" width="9.2" height="4.2" fill="#fff" stroke="#000" stroke-width="1"/>
<text x="312.7" y="523.3" font-size="8">+ TC/anti–MHC I</text>
</svg>
</body></html>
